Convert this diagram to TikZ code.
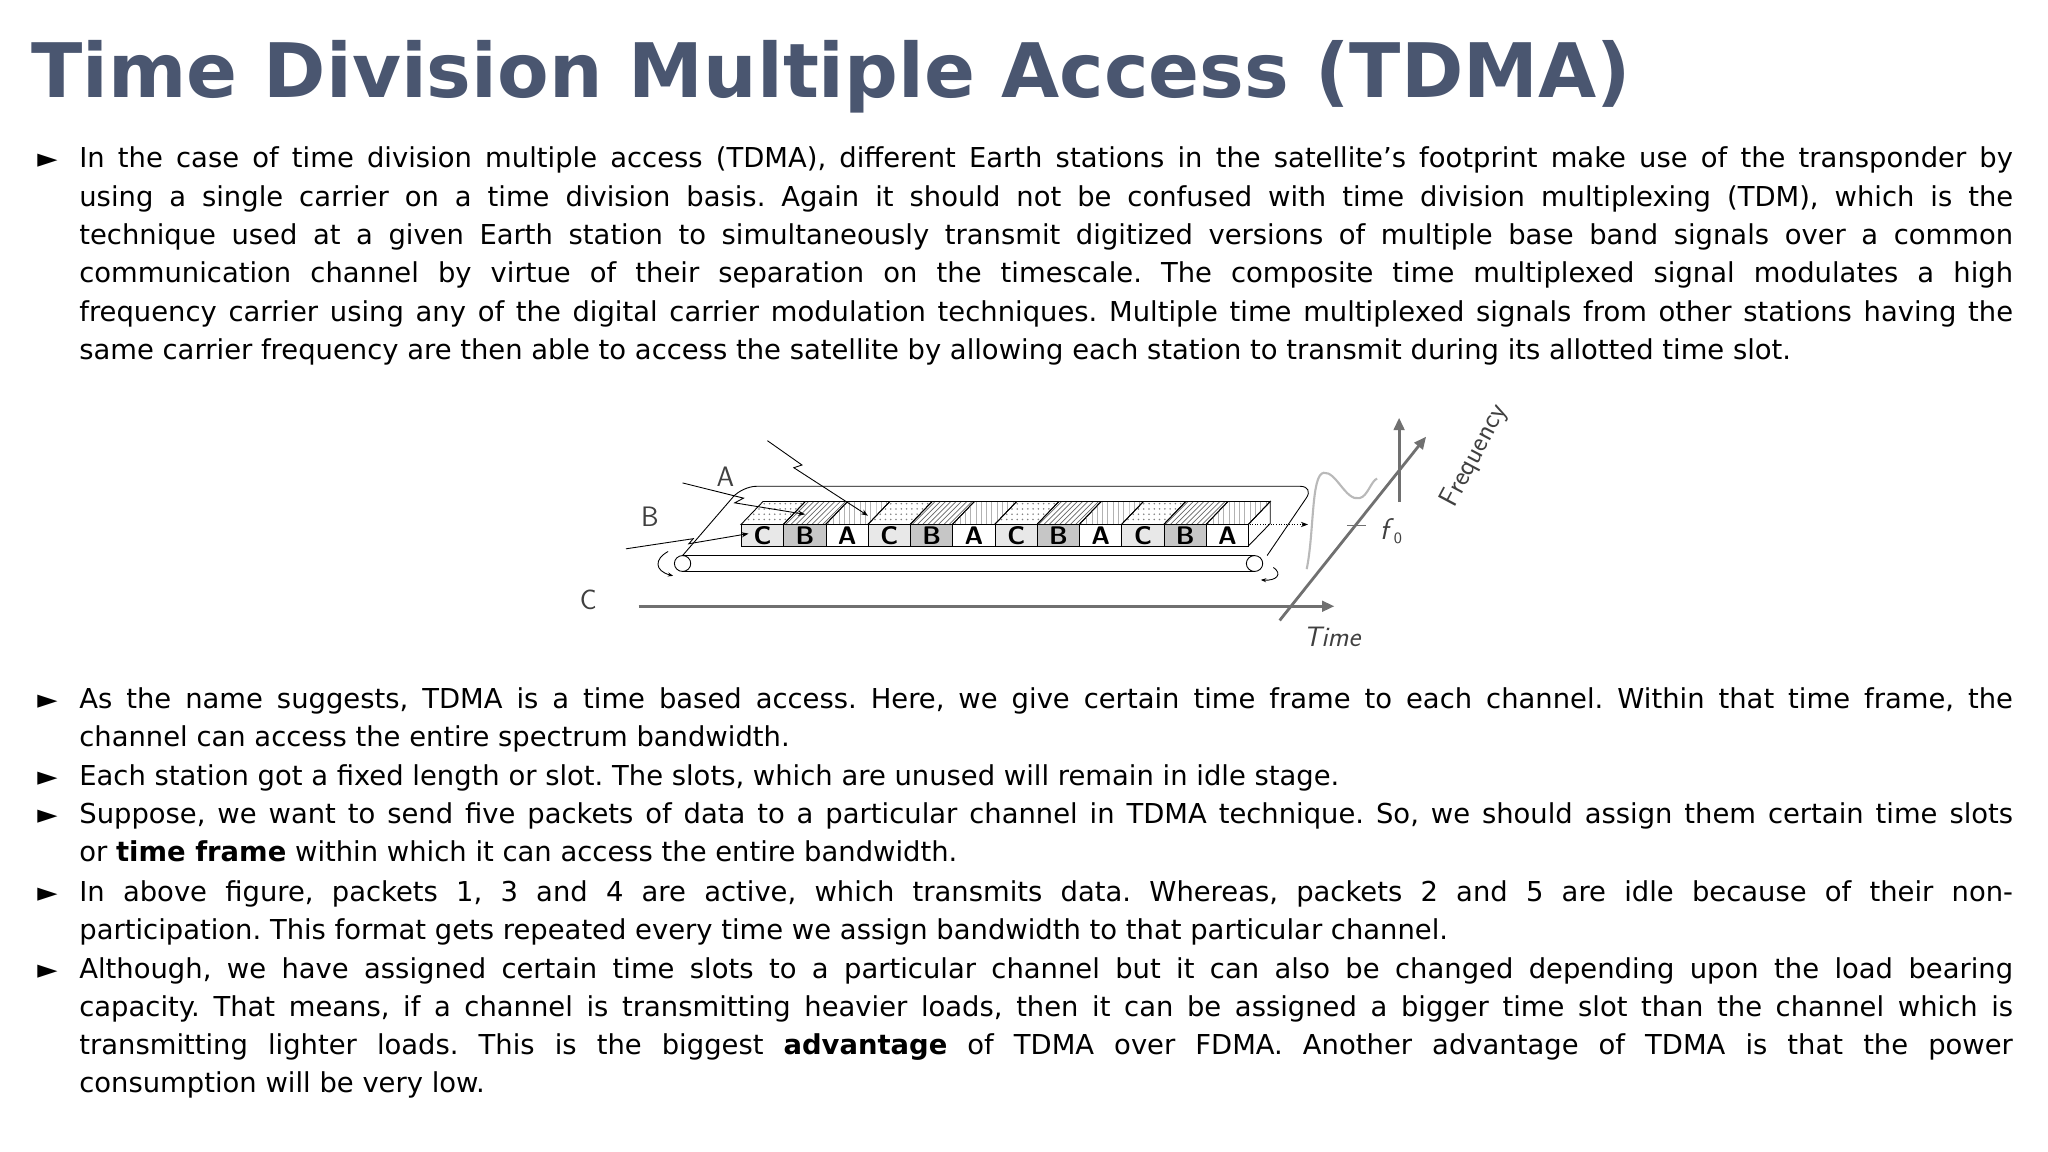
\documentclass[tikz,border=0pt]{standalone}
\usepackage{fontspec}
\setmainfont{DejaVu Sans}
\usetikzlibrary{patterns,arrows.meta}
\definecolor{titleblue}{HTML}{4A5670}
\definecolor{axisgray}{HTML}{707070}
\frenchspacing

\tikzset{
	para/.style={anchor=base west, inner sep=0pt, text width=38.68cm, align=justify,
		font=\fontsize{15.6}{21.8}\selectfont},
	bullet/.style={anchor=base west, inner sep=0pt, font=\fontsize{15}{18}\selectfont},
	topC/.style={pattern=dots, pattern color=gray},
	topB/.style={pattern=north east lines, pattern color=gray!80!black},
	topA/.style={pattern=vertical lines, pattern color=gray!60},
	frontC/.style={fill=gray!18},
	frontB/.style={fill=gray!45},
	frontA/.style={fill=white},
	lbl/.style={font=\sffamily\fontsize{16}{16}\selectfont, text=black!75}
}

\begin{document}
\begin{tikzpicture}[x=0.02cm, y=-0.02cm]
	\useasboundingbox (0,0) rectangle (2048,1152);
	
	\node[anchor=base west, inner sep=0pt, text=titleblue, font=\bfseries\fontsize{42.8}{48}\selectfont] (title) at (31,98) {Time Division Multiple Access (TDMA)};
	
	\node[bullet] (b-1) at (37,168) {►};
	\node[para] (p-1) at (79,168) {In the case of time division multiple access (TDMA), different Earth stations in the satellite’s footprint make use of the transponder by\linebreak using a single carrier on a time division basis. Again it should not be confused with time division multiplexing (TDM), which is the\linebreak technique used at a given Earth station to simultaneously transmit digitized versions of multiple base band signals over a common\linebreak communication channel by virtue of their separation on the timescale. The composite time multiplexed signal modulates a high\linebreak frequency carrier using any of the digital carrier modulation techniques. Multiple time multiplexed signals from other stations having the\linebreak same carrier frequency are then able to access the satellite by allowing each station to transmit during its allotted time slot.};
	
	\node[bullet] (b-2) at (37,708) {►};
	\node[para] (p-2) at (79,708) {As the name suggests, TDMA is a time based access. Here, we give certain time frame to each channel. Within that time frame, the\linebreak channel can access the entire spectrum bandwidth.};
	\node[bullet] (b-3) at (37,785) {►};
	\node[para] (p-3) at (79,785) {Each station got a fixed length or slot. The slots, which are unused will remain in idle stage.};
	\node[bullet] (b-4) at (37,823) {►};
	\node[para] (p-4) at (79,823) {Suppose, we want to send five packets of data to a particular channel in TDMA technique. So, we should assign them certain time slots\linebreak or \textbf{time frame} within which it can access the entire bandwidth.};
	\node[bullet] (b-5) at (37,901) {►};
	\node[para] (p-5) at (79,901) {In above figure, packets 1, 3 and 4 are active, which transmits data. Whereas, packets 2 and 5 are idle because of their non-\linebreak participation. This format gets repeated every time we assign bandwidth to that particular channel.};
	\node[bullet] (b-6) at (37,978) {►};
	\node[para] (p-6) at (79,978) {Although, we have assigned certain time slots to a particular channel but it can also be changed depending upon the load bearing\linebreak capacity. That means, if a channel is transmitting heavier loads, then it can be assigned a bigger time slot than the channel which is\linebreak transmitting lighter loads. This is the biggest \textbf{advantage} of TDMA over FDMA. Another advantage of TDMA is that the power\linebreak consumption will be very low.};
	
	% conveyor diagram
	\begin{scope}[shift={(560,390)}, x=0.012579cm, y=-0.006757cm, line width=0.5pt]
		% belt
		\draw[rounded corners=8pt] (195,490) -- (290,285) -- (1200,285) -- (1125,490);
		\draw (195,490) -- (1105,490);
		\draw (195,537) -- (1105,537);
		\draw (195,513.5) ellipse [x radius=13, y radius=23.5];
		\draw (1105,513.5) ellipse [x radius=13, y radius=23.5];
		% rotation arrows
		\draw[-{Stealth[length=3pt]}] (172,478) .. controls (150,500) and (150,535) .. (180,550);
		\draw[-{Stealth[length=3pt]}] (1135,525) .. controls (1150,545) and (1140,565) .. (1115,562);
		% slots
		\foreach \l [count=\i from 0] in {C,B,A,C,B,A,C,B,A,C,B,A}{
			\pgfmathsetmacro{\xa}{288+\i*67.25}
			\pgfmathsetmacro{\xb}{288+(\i+1)*67.25}
			\path[draw, top\l] (\xa,398) -- (\xa+35,330) -- (\xb+35,330) -- (\xb,398) -- cycle;
			\node[draw, front\l, minimum width=67.25*0.012579cm, minimum height=64*0.006757cm, anchor=north west, inner sep=0pt,
				font=\sffamily\bfseries\fontsize{14.5}{14.5}\selectfont] (s-\i) at (\xa,398) {\l};
		};
		\draw (1095,398) -- (1130,330) -- (1130,395) -- (1095,462);
		\coordinate (se) at (1097,398);
		\coordinate (sa) at (1190,398);
		\draw[densely dotted, -{Stealth[length=4pt]}] (se) -- (sa);
		% spectrum
		\draw[gray!55, line width=1.2pt] (1188,530) .. controls (1200,420) and (1195,250) .. (1215,245)
			.. controls (1235,240) and (1250,330) .. (1272,320) .. controls (1285,315) and (1290,270) .. (1300,262);
		% axes
		\coordinate (t0) at (125,640);
		\coordinate (t1) at (1232,640);
		\draw[axisgray, line width=1.6pt, -{Triangle[length=7pt,width=6pt]}] (t0) -- (t1);
		\coordinate (d0) at (1145,682);
		\coordinate (d1) at (1378,138);
		\draw[axisgray, line width=1.6pt, -{Triangle[length=7pt,width=6pt]}] (d0) -- (d1);
		\coordinate (v0) at (1335,332);
		\coordinate (v1) at (1335,82);
		\draw[axisgray, line width=1.6pt, -{Triangle[length=7pt,width=6pt]}] (v0) -- (v1);
		\draw[axisgray] (1252,400) -- (1283,400);
		\node[lbl, font=\sffamily\fontsize{17}{17}\selectfont] (f0) at (1322,418) {\textit{f}\raisebox{-0.3ex}{\small 0}};
		\node[lbl, rotate=62, inner sep=0pt] (freq) at (1455,195) {Frequency};
		\node[lbl, font=\sffamily\itshape\fontsize{16}{16}\selectfont] (time) at (1228,730) {Time};
		% stations
		\node[lbl] (la) at (263,258) {A};
		\node[lbl] (lb) at (143,375) {B};
		\node[lbl] (lc) at (45,620) {C};
		\draw[-{Stealth[length=4pt]}] (195,275) -- (292,320) -- (278,334) -- (390,368);
		\draw[-{Stealth[length=4pt]}] (330,150) -- (385,222) -- (372,230) -- (490,372);
		\draw[-{Stealth[length=4pt]}] (105,470) -- (212,440) -- (205,455) -- (300,425);
	\end{scope}
\end{tikzpicture}
\end{document}
